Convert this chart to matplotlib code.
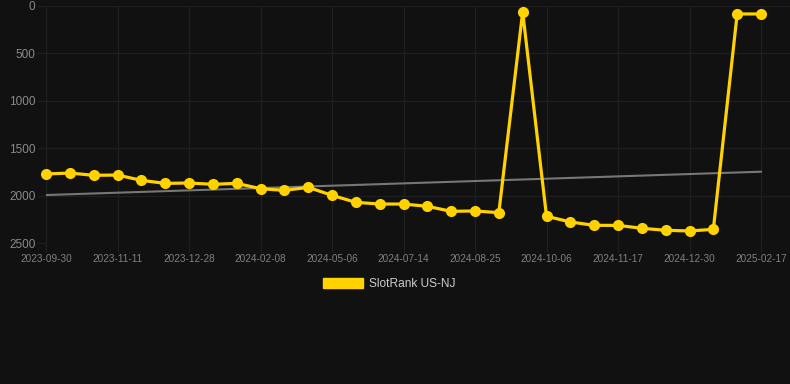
import matplotlib
matplotlib.use("Agg")
import matplotlib.pyplot as plt
from matplotlib.patches import Patch

plt.rcParams['font.family'] = ['Liberation Sans', 'DejaVu Sans']

dates = [
    "2023-09-30", "2023-10-14", "2023-10-28", "2023-11-11", "2023-11-25",
    "2023-12-09", "2023-12-28", "2024-01-11", "2024-01-25", "2024-02-08",
    "2024-03-07", "2024-04-06", "2024-05-06", "2024-06-02", "2024-06-16",
    "2024-07-14", "2024-07-28", "2024-08-11", "2024-08-25", "2024-09-08",
    "2024-09-22", "2024-10-06", "2024-10-20", "2024-11-03", "2024-11-17",
    "2024-12-01", "2024-12-15", "2024-12-30", "2025-01-13", "2025-01-27",
    "2025-02-17",
]
rank = [
    1772, 1762, 1786, 1783, 1839, 1871, 1867, 1881, 1871, 1927,
    1945, 1913, 1997, 2071, 2089, 2089, 2113, 2166, 2162, 2180,
    63, 2218, 2278, 2314, 2314, 2345, 2366, 2373, 2356, 84,
    84,
]
trend_values = [1994, 1748]
y_ticks = [0, 500, 1000, 1500, 2000, 2500]
series_name = "SlotRank US-NJ"

BG = "#111111"
GRID = "#1f1f1f"
GOLD = "#FFD200"

fig = plt.figure(figsize=(7.9, 3.84), dpi=100, facecolor=BG)
ax = fig.add_axes([46 / 790, 1 - 243 / 384, (790 - 46) / 790, (243 - 6) / 384])
ax.set_facecolor(BG)

x = list(range(len(dates)))
ax.plot([x[0], x[-1]], trend_values, color="#777777", lw=1.5, zorder=2)
ax.plot(x, rank, color=GOLD, lw=2.3, marker="o", markersize=7,
        markerfacecolor=GOLD, markeredgecolor=GOLD, zorder=3, clip_on=False)

step = (761 - 46) / 30
ax.set_xlim(0, (790 - 46) / step)
ax.set_ylim(2500, 0)

tick_idx = list(range(0, len(dates), 3))
ax.set_xticks(tick_idx)
ax.set_xticklabels([dates[i] for i in tick_idx])
ax.set_yticks(y_ticks)
ax.set_yticklabels([str(v) for v in y_ticks])

ax.tick_params(axis="x", colors=GRID, length=6.5, width=0.9, pad=1.5,
               labelcolor="#808080", labelsize=7.2)
ax.tick_params(axis="y", colors=GRID, length=6.5, width=0.9, pad=1,
               labelcolor="#8a8a8a", labelsize=8.5)

ax.grid(True, color=GRID, lw=0.9)
ax.set_axisbelow(True)
for s in ax.spines.values():
    s.set_visible(False)

handle = Patch(facecolor=GOLD, edgecolor=GOLD)
fig.legend([handle], [series_name], loc="center",
           bbox_to_anchor=(389.5 / 790, 1 - 284 / 384), frameon=False,
           handlelength=3.35, handleheight=1.0, handletextpad=0.5,
           labelcolor="#cccccc", fontsize=8.6)

fig.savefig("out.png", dpi=100, facecolor=BG)
